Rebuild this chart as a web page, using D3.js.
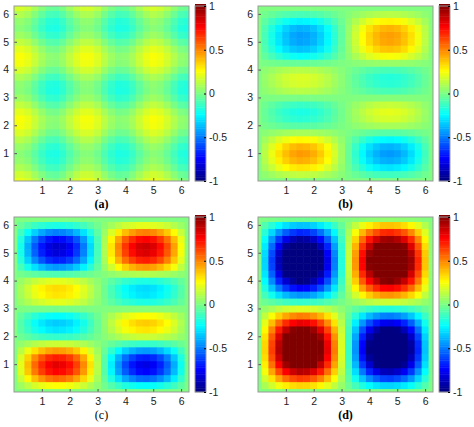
<!DOCTYPE html><html><head><meta charset="utf-8">
<script src="https://cdn.jsdelivr.net/npm/d3@7"></script>
<style>body{margin:0;background:#fff}text{font-family:"Liberation Sans",Arial,sans-serif}</style></head><body>
<svg id="c" width="474" height="427"></svg>
<script>
// sample positions 0,0.25,...,6.25
const samples = d3.range(26).map(i => i * 0.25);
const axisTicks = [1, 2, 3, 4, 5, 6];
const cbarTicks = [-1, -0.5, 0, 0.5, 1];
const panelLabels = ["(a)", "(b)", "(c)", "(d)"];
// panel (a): sum of x and y profiles
const aX = [.10,.11,.08,.02,-.05,-.10,-.11,-.07,0,.06,.10,.10,.06,-.01,-.07,-.11,-.10,-.05,.02,.08,.11,.09,.04,-.03,-.09,-.11];
const aY = [.08,.03,-.04,-.09,-.11,-.08,-.02,.05,.10,.11,.07,0,-.07,-.11,-.10,-.04,.04,.10,.11,.07,0,-.07,-.11,-.09,-.03,.04];
// panels (b),(c),(d): product of x and y profiles
const sinX = [0,.25,.48,.68,.84,.95,1.0,.98,.91,.78,.60,.38,.14,-.11,-.35,-.57,-.76,-.89,-.98,-1.0,-.96,-.86,-.71,-.51,-.28,-.03];
const bY = [0,.13,.3,.41,.45,.4,.26,.08,-.08,-.17,-.2,-.14,-.01,.11,.17,.18,.11,-.05,-.24,-.37,-.43,-.44,-.4,-.27,-.11,0];
const cY = [0,.25,.55,.75,.8,.7,.45,.15,-.15,-.3,-.35,-.25,-.02,.2,.3,.32,.2,-.1,-.45,-.7,-.82,-.85,-.75,-.5,-.2,0];
const dX = [0,.29,.55,.78,.97,1.09,1.15,1.13,1.05,.9,.69,.44,.16,-.13,-.4,-.66,-.87,-1.02,-1.13,-1.15,-1.1,-.99,-.82,-.59,-.32,-.03];
const dY = [0,.29,.55,.78,.97,1.09,1.15,1.13,1.05,.9,.69,.44,.16,-.13,-.4,-.66,-.87,-1.02,-1.13,-1.15,-1.1,-.99,-.82,-.59,-.32,-.03];

const jet = t => { const c = v => Math.round(255*Math.max(0,Math.min(1,v)));
  return `rgb(${c(1.5-Math.abs(4*t-3))},${c(1.5-Math.abs(4*t-2))},${c(1.5-Math.abs(4*t-1))})`; };
const color = d3.scaleSequential(jet).domain([-1, 1]).clamp(true);

const panels = [
  {x:14, y:6, bold:true, f:(i,j)=>0.02+aX[i]+aY[j]},
  {x:258, y:6, bold:true, f:(i,j)=>sinX[i]*bY[j]},
  {x:14, y:217, bold:false, f:(i,j)=>sinX[i]*cY[j]},
  {x:258, y:217, bold:true, f:(i,j)=>dX[i]*dY[j]}
];
const S = 175, svg = d3.select("#c");
panels.forEach((p, k) => {
  const g = svg.append("g").attr("transform", `translate(${p.x},${p.y})`);
  const x = d3.scaleLinear().domain([0, 2*Math.PI]).range([0, S]);
  const y = d3.scaleLinear().domain([0, 2*Math.PI]).range([S, 0]);
  const cells = [];
  samples.forEach((sx, i) => samples.forEach((sy, j) => cells.push({sx, sy, v: p.f(i, j)})));
  const cw = x(0.25) - x(0);
  g.append("clipPath").attr("id", "cp"+k).append("rect").attr("width", S).attr("height", S);
  g.append("g").attr("clip-path", `url(#cp${k})`).selectAll("rect").data(cells).join("rect")
    .attr("x", d => x(d.sx) - cw/2).attr("y", d => y(d.sy) - cw/2)
    .attr("width", cw + 0.6).attr("height", cw + 0.6).attr("fill", d => color(d.v));
  const ax = d3.axisBottom(x).tickValues(axisTicks).tickSize(-3).tickPadding(6).tickFormat(d3.format("d"));
  const ay = d3.axisLeft(y).tickValues(axisTicks).tickSize(-3).tickPadding(5).tickFormat(d3.format("d"));
  g.append("g").attr("transform", `translate(0,${S})`).call(ax);
  g.append("g").call(ay);
  g.append("rect").attr("width", S).attr("height", S).attr("fill", "none").attr("stroke", "#999");
  g.selectAll(".domain").remove();
  g.selectAll(".tick line").attr("stroke", "#555");
  g.selectAll(".tick text").attr("font-size", 10.5).attr("fill", "#222");
  // colorbar
  const cb = g.append("g").attr("transform", `translate(${S+6},0)`);
  const cy = d3.scaleLinear().domain([-1, 1]).range([S, 0]);
  const steps = d3.range(-1, 1.0001, 0.02);
  cb.selectAll("rect").data(steps).join("rect").attr("x", 0).attr("width", 11)
    .attr("y", d => cy(d) - 2).attr("height", 2.2).attr("fill", d => color(d));
  cb.append("rect").attr("width", 11).attr("height", S).attr("fill", "none").attr("stroke", "#999");
  const ca = cb.append("g").attr("transform", "translate(11,0)")
    .call(d3.axisRight(cy).tickValues(cbarTicks).tickSize(-2).tickPadding(3).tickFormat(d => String(d)));
  ca.select(".domain").remove();
  ca.selectAll(".tick text").attr("font-size", 10.5).attr("fill", "#222");
  g.append("text").attr("x", S/2).attr("y", S + 27).attr("text-anchor", "middle")
    .style("font-family", "'Liberation Serif','Times New Roman',serif").attr("font-weight", p.bold ? "bold" : "normal")
    .attr("font-size", 12).text(panelLabels[k]);
});
</script></body></html>
